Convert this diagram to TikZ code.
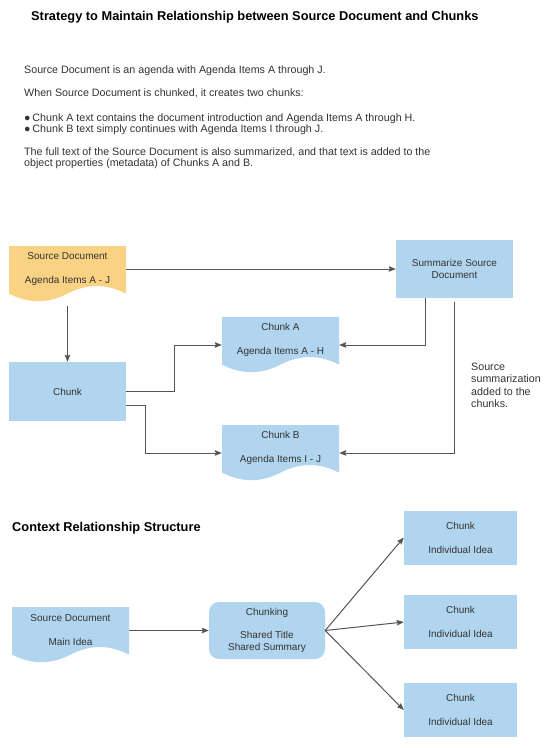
\documentclass[tikz,border=0pt]{standalone}
\usepackage{fontspec}
\setmainfont{Liberation Sans}
\usetikzlibrary{arrows.meta}
\usetikzlibrary{calc}
\definecolor{boxblue}{RGB}{177,213,238}
\definecolor{docorange}{RGB}{250,210,132}
\definecolor{textgray}{RGB}{51,51,51}
\definecolor{linegray}{RGB}{85,85,85}
\tikzset{
    boxtext/.style={text=textgray, font=\fontsize{10}{12}\selectfont, align=center, inner sep=0pt},
    procbox/.style={boxtext, fill=boxblue, minimum width=117pt, minimum height=58pt},
    ideabox/.style={procbox, minimum width=113pt, minimum height=54pt},
    roundbox/.style={procbox, minimum width=116pt, minimum height=57pt, rounded corners=10pt},
    docframe/.style={inner sep=0pt, minimum width=117pt, minimum height=56pt},
    conn/.style={draw=linegray, line width=1pt, -{Stealth[length=7pt,width=5.5pt,inset=1pt]}},
    bodytext/.style={text=textgray, font=\fontsize{10.7}{11}\selectfont, align=left, inner sep=0pt},
    headtext/.style={font=\fontsize{12.8}{15}\selectfont\bfseries, inner sep=0pt}
}
\newcommand{\drawdocument}[4]{
    \begin{scope}[shift={(#2)}]
        \fill [#3] (0,0) -- (117,0) -- (117,47.6)
            .. controls (97.5,37.5) and (78,37.5) .. (58.5,47.6)
            .. controls (39,57.7) and (19.5,57.7) .. (0,47.6) -- cycle;
        \node [docframe] (#1) at (58.5,28) {};
        \node [boxtext] (#1-text) at (58.5,23) {#4};
    \end{scope}
}

\begin{document}
\begin{tikzpicture}[x=1pt, y=-1pt]
    \path [fill=white, use as bounding box] (0,0) rectangle (550,748);

    \node [headtext, anchor=base west] (title) at (31,20.5) {Strategy to Maintain Relationship between Source Document and Chunks};
    \node [bodytext, anchor=north west] (intro) at (24,65.2) {Source Document is an agenda with Agenda Items A through J.};
    \node [bodytext, anchor=north west] (split) at (24,88.9) {When Source Document is chunked, it creates two chunks:};
    \node [bodytext, anchor=north west] (bullets) at (24,113.2) {●\,Chunk A text contains the document introduction and Agenda Items A through H.\\●\,Chunk B text simply continues with Agenda Items I through J.};
    \node [bodytext, anchor=north west] (summary) at (24,147.9) {The full text of the Source Document is also summarized, and that text is added to the\\object properties (metadata) of Chunks A and B.};

    % chunking of the source document
    \drawdocument{srcdoc}{9,246}{docorange}{Source Document\\[12pt]Agenda Items A - J};
    \node [procbox] (summ) at (454.5,269) {Summarize Source\\Document};
    \node [procbox, minimum height=59pt] (chunk) at (67.5,391.5) {Chunk};
    \drawdocument{chunka}{222,317}{boxblue}{Chunk A\\[12pt]Agenda Items A - H};
    \drawdocument{chunkb}{222,425}{boxblue}{Chunk B\\[12pt]Agenda Items I - J};
    \node [bodytext, anchor=north west, font=\fontsize{10.7}{12.3}\selectfont] (note) at (471,363) {Source\\summarization\\added to the\\chunks.};

    \draw [conn] (srcdoc.east |- summ.west) -- (summ.west);
    \draw [conn, shorten <=4pt] (srcdoc.south) -- (chunk.north);
    \draw [conn] (chunk.east) -- ++(48,0) |- (chunka.west);
    \draw [conn] ([yshift=-14pt]chunk.east) -- ++(19,0) |- (chunkb.west);
    \draw [conn] ([xshift=-29.5pt]summ.south) |- (chunka.east);
    \draw [conn, shorten <=4pt] (summ.south) |- (chunkb.east);

    % context relationship structure
    \node [headtext, anchor=base west] (context) at (12,531.5) {Context Relationship Structure};
    \drawdocument{maindoc}{12,607}{boxblue}{Source Document\\[12pt]Main Idea};
    \node [roundbox] (chunking) at (267,630.5) {Chunking\\[11pt]Shared Title\\Shared Summary};
    \node [ideabox] (idea1) at (460.5,537.5) {Chunk\\[12pt]Individual Idea};
    \node [ideabox] (idea2) at (460.5,622) {Chunk\\[12pt]Individual Idea};
    \node [ideabox] (idea3) at (460.5,710) {Chunk\\[12pt]Individual Idea};

    \draw [conn] (maindoc.east |- chunking.west) -- (chunking.west);
    \draw [conn] (chunking.east) -- (idea1.west);
    \draw [conn] (chunking.east) -- (idea2.west);
    \draw [conn] (chunking.east) -- (idea3.west);
\end{tikzpicture}
\end{document}
